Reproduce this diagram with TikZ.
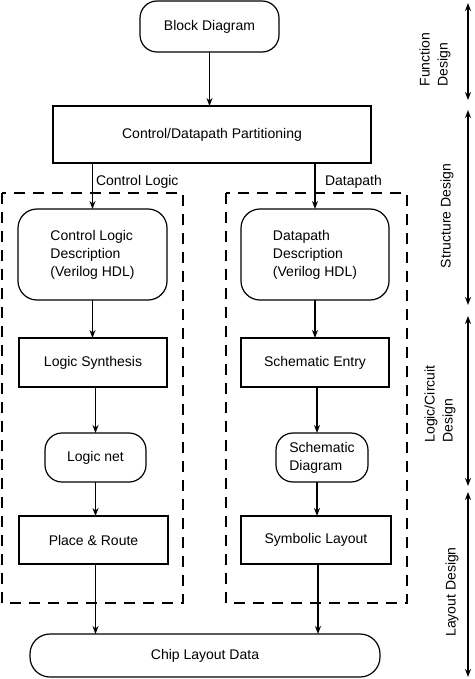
\documentclass[tikz,border=0pt]{standalone}
\usepackage{fontspec}
\setmainfont{Liberation Sans}
\usetikzlibrary{arrows.meta,calc}
\begin{document}
\begin{tikzpicture}[x=1pt,y=-1pt,
  font=\fontsize{14}{18}\selectfont,
  every node/.style={inner sep=0pt, outer sep=0pt},
  sq/.style={draw, line width=1.2pt, rectangle},
  rnd/.style={draw, line width=1.2pt, rectangle, rounded corners=17pt},
  arr/.style={line width=1.3pt, -{Stealth[length=8pt,width=6pt]}},
  darr/.style={line width=1.3pt, {Stealth[length=8pt,width=6pt]}-{Stealth[length=8pt,width=6pt]}},
  grp/.style={draw, line width=1.3pt, dash pattern=on 11pt off 8pt},
  lbl/.style={rotate=90, align=left}
]
\useasboundingbox (0,0) rectangle (474,679);

% main column nodes
\node[rnd, minimum width=139pt, minimum height=51pt] (block) at (209.5,26.5) {Block Diagram};
\node[sq, minimum width=318pt, minimum height=57pt] (part) at (212,134.5) {Control/Datapath Partitioning};

\node[rnd, rounded corners=19pt, minimum width=149pt, minimum height=91pt, align=left] (cld) at (92.5,254.5) {Control Logic\\Description\\(Verilog HDL)};
\node[rnd, rounded corners=19pt, minimum width=148pt, minimum height=91pt, align=left] (dpd) at (315,254.5) {Datapath\\Description\\(Verilog HDL)};

\node[sq, minimum width=148pt, minimum height=49pt] (ls) at (93,362.5) {Logic Synthesis};
\node[sq, minimum width=148pt, minimum height=49pt] (se) at (315,362.5) {Schematic Entry};

\node[rnd, minimum width=101pt, minimum height=49pt] (ln) at (95.5,457.5) {Logic net};
\node[rnd, minimum width=92pt, minimum height=49pt, align=left] (sd) at (322,457.5) {Schematic\\Diagram};

\node[sq, minimum width=149pt, minimum height=48pt] (pr) at (93.5,540) {Place \& Route};
\node[sq, minimum width=150pt, minimum height=48pt] (sl) at (316,540) {Symbolic Layout};

\node[rnd, rounded corners=20pt, minimum width=350pt, minimum height=43pt] (chip) at (205,655.5) {Chip Layout Data};

% dashed groups
\draw[grp] (2,193) rectangle (183,603);
\draw[grp] (226,193) rectangle (407,603);

% branch labels
\node[anchor=west] (cll) at (96,182) {Control Logic};
\node[anchor=west] (dpl) at (325,182) {Datapath};

% connectors
\draw[arr] (block.south) -- (block.south |- part.north);
\draw[arr] (part.south -| cld.north) -- (cld.north);
\draw[arr] (part.south -| dpd.north) -- (dpd.north);
\draw[arr] (cld.south) -- (cld.south |- ls.north);
\draw[arr] (dpd.south) -- (dpd.south |- se.north);
\draw[arr] (ls.south -| ln.north) -- (ln.north);
\draw[arr] (se.south -| 317,0) -- (317,0 |- sd.north);
\draw[arr] (ln.south) -- (ln.south |- pr.north);
\draw[arr] (sd.south -| 317,0) -- (317,0 |- sl.north);
\draw[arr] (pr.south -| ln.south) -- (ln.south |- chip.north);
\draw[arr] (sl.south -| 318,0) -- (318,0 |- chip.north);

% right-hand phase arrows
\coordinate (f1) at (468,3);   \coordinate (f2) at (468,100);
\coordinate (s1) at (468,110); \coordinate (s2) at (468,305);
\coordinate (c1) at (468,316); \coordinate (c2) at (468,486);
\coordinate (l1) at (468,492); \coordinate (l2) at (468,677);
\draw[darr] (f1) -- (f2);
\draw[darr] (s1) -- (s2);
\draw[darr] (c1) -- (c2);
\draw[darr] (l1) -- (l2);

\node[lbl] (fd) at (435,59.5) {Function\\Design};
\node[lbl] (sdz) at (447,216) {Structure Design};
\node[lbl] (cd) at (440,404) {Logic/Circuit\\Design};
\node[lbl] (ld) at (452,592) {Layout Design};
\end{tikzpicture}
\end{document}
